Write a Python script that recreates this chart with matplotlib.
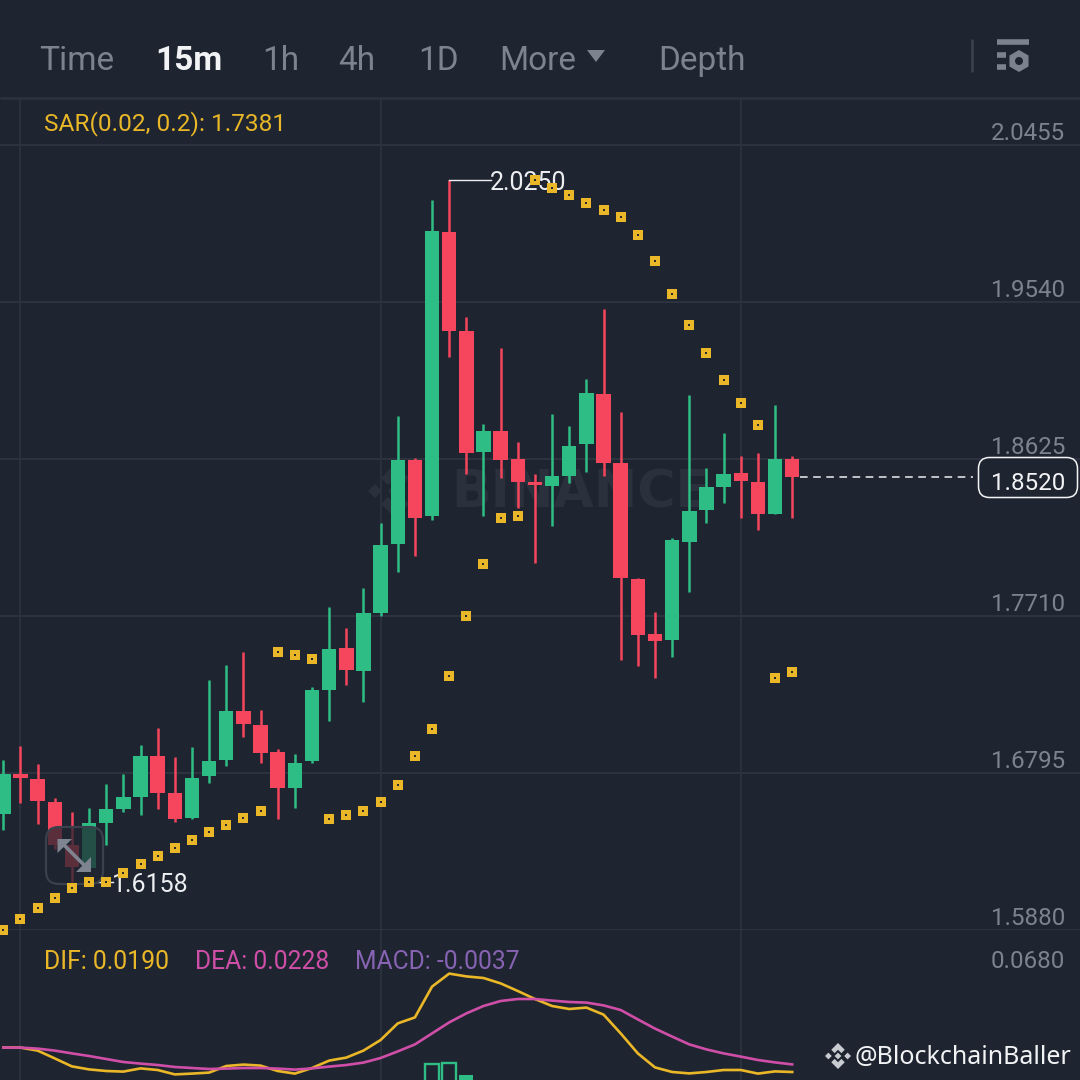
import matplotlib
matplotlib.use("Agg")
import matplotlib.pyplot as plt
from matplotlib.patches import Circle, FancyBboxPatch, Polygon, RegularPolygon

plt.rcParams["font.family"] = ["Roboto", "DejaVu Sans"]

# header tabs
tab_labels = ["Time", "15m", "1h", "4h", "1D", "More", "Depth"]

# price panel
price_ticks = [2.0455, 1.9540, 1.8625, 1.7710, 1.6795, 1.5880]
opens = [1.6558, 1.6787, 1.6758, 1.6628, 1.6375, 1.6243, 1.6505, 1.6587, 1.6657, 1.6896, 1.6678, 1.6531,
         1.6778, 1.6873, 1.7155, 1.7073, 1.6917, 1.6709, 1.6863, 1.7280, 1.7522, 1.7389, 1.7727, 1.8130,
         1.8619, 1.8293, 1.9946, 1.9369, 1.8666, 1.8790, 1.8625, 1.8493, 1.8466, 1.8528, 1.8712, 1.9004,
         1.8602, 1.7924, 1.7605, 1.7568, 1.8144, 1.8328, 1.8462, 1.8545, 1.8493, 1.8303, 1.8623]
closes = [1.6787, 1.6764, 1.6634, 1.6375, 1.6249, 1.6504, 1.6585, 1.6655, 1.6894, 1.6680, 1.6527, 1.6768,
          1.6867, 1.7155, 1.7082, 1.6913, 1.6709, 1.6855, 1.7280, 1.7519, 1.7397, 1.7727, 1.8122, 1.8619,
          1.8283, 1.9954, 1.9371, 1.8658, 1.8788, 1.8621, 1.8493, 1.8473, 1.8526, 1.8703, 1.9010, 1.8603,
          1.7930, 1.7599, 1.7563, 1.8153, 1.8324, 1.8464, 1.8536, 1.8497, 1.8306, 1.8625, 1.8520]
highs = [1.6871, 1.6954, 1.6846, 1.6651, 1.6569, 1.6593, 1.6729, 1.6787, 1.6956, 1.7057, 1.6888, 1.6945,
         1.7339, 1.7423, 1.7498, 1.7164, 1.6933, 1.6906, 1.7298, 1.7762, 1.7640, 1.7873, 1.8250, 1.8877,
         1.8629, 2.0134, 2.0250, 1.9453, 1.8831, 1.9270, 1.8726, 1.8538, 1.8886, 1.8817, 1.9093, 1.9497,
         1.8897, 1.7929, 1.7735, 1.8163, 1.8998, 1.8571, 1.8775, 1.8641, 1.8658, 1.8938, 1.8641]
lows = [1.6461, 1.6622, 1.6500, 1.6352, 1.6158, 1.6241, 1.6375, 1.6568, 1.6550, 1.6583, 1.6511, 1.6525,
        1.6735, 1.6836, 1.7003, 1.6855, 1.6525, 1.6593, 1.6852, 1.7100, 1.7310, 1.7211, 1.7712, 1.7965,
        1.8058, 1.8270, 1.9221, 1.8536, 1.8291, 1.8516, 1.8338, 1.8017, 1.8236, 1.8487, 1.8547, 1.8528,
        1.7454, 1.7417, 1.7349, 1.7469, 1.7848, 1.8254, 1.8367, 1.8281, 1.8211, 1.8303, 1.8279]
sar = [1.5880, 1.5946, 1.6008, 1.6068, 1.6125, 1.6158, 1.6158, 1.6212, 1.6265, 1.6313, 1.6360, 1.6406,
       1.6449, 1.6490, 1.6533, 1.6572, 1.7498, 1.7481, 1.7461, 1.6525, 1.6550, 1.6574, 1.6626, 1.6723,
       1.6894, 1.7051, 1.7362, 1.7708, 1.8013, 1.8283, 1.8291, 2.0249, 2.0204, 2.0162, 2.0117, 2.0074,
       2.0035, 1.9932, 1.9781, 1.9587, 1.9406, 1.9243, 1.9085, 1.8951, 1.8823, 1.7350, 1.7381]

# macd panel
macd_top_tick = 0.0680
dif = [0.0312, 0.0312, 0.0297, 0.0258, 0.0218, 0.0203, 0.0195, 0.0192, 0.0208, 0.0200, 0.0178, 0.0182,
       0.0187, 0.0220, 0.0227, 0.0222, 0.0195, 0.0182, 0.0210, 0.0247, 0.0262, 0.0297, 0.0350, 0.0433,
       0.0463, 0.0617, 0.0682, 0.0668, 0.0660, 0.0633, 0.0595, 0.0555, 0.0520, 0.0505, 0.0512, 0.0477,
       0.0383, 0.0283, 0.0213, 0.0190, 0.0183, 0.0190, 0.0200, 0.0200, 0.0182, 0.0193, 0.0190]
dea = [0.0312, 0.0312, 0.0307, 0.0297, 0.0283, 0.0270, 0.0255, 0.0240, 0.0232, 0.0225, 0.0215, 0.0210,
       0.0205, 0.0207, 0.0210, 0.0210, 0.0207, 0.0202, 0.0208, 0.0217, 0.0225, 0.0237, 0.0260, 0.0293,
       0.0328, 0.0383, 0.0438, 0.0483, 0.0520, 0.0545, 0.0555, 0.0555, 0.0547, 0.0540, 0.0537, 0.0523,
       0.0500, 0.0453, 0.0407, 0.0367, 0.0328, 0.0303, 0.0283, 0.0267, 0.0250, 0.0238, 0.0228]
hist_index = [25, 26, 27]
hist_values = [0.0230, 0.0237, 0.0174]
hist_hollow = [True, True, False]

BG = "#1f2530"
GRID = "#2e3440"
GREEN = "#2ebd85"
RED = "#f6465d"
YELLOW = "#eab728"
PINK = "#cf4fa8"
PURPLE = "#8763b3"
MUTED = "#7c838f"
WHITE = "#eceef1"

W = 1080
fig = plt.figure(figsize=(10.8, 10.8), dpi=100, facecolor=BG)


def pixel_axes(zorder):
    ax = fig.add_axes([0, 0, 1, 1], zorder=zorder)
    ax.set_xlim(0, W)
    ax.set_ylim(W, 0)
    ax.axis("off")
    return ax


def binance_logo(ax, cx, cy, size, color):
    # centre and side diamonds plus the top and bottom chevrons
    r = 0.26 * size
    for dx in (-0.74 * size, 0, 0.74 * size):
        ax.add_patch(Polygon([(cx + dx - r, cy), (cx + dx, cy - r), (cx + dx + r, cy), (cx + dx, cy + r)],
                             closed=True, fc=color, ec="none"))
    chevron = [(0, -1), (0.52, -0.48), (0.26, -0.22), (0, -0.48), (-0.26, -0.22), (-0.52, -0.48)]
    for sign in (1, -1):
        ax.add_patch(Polygon([(cx + px * size, cy + sign * py * size) for px, py in chevron],
                             closed=True, fc=color, ec="none"))


# backdrop: header rule and BINANCE watermark sit under the candles
back = pixel_axes(0)
back.hlines(98, 0, W, color="#2b313c", lw=2.2)
binance_logo(back, 395, 491, 27, "#2b313c")
back.text(451, 493, "BINANCE", color="#2b313c", fontsize=37.5, fontweight="bold", va="center", ha="left",
          family="DejaVu Sans")

# price axes
price_per_px = (price_ticks[0] - price_ticks[1]) / 157
ax = fig.add_axes([0, 150 / W, 1, 831 / W], zorder=1, facecolor="none")
ax.set_xlim(-3.3 / 17.15, (W - 3.3) / 17.15)
ax.set_ylim(price_ticks[-1], price_ticks[-1] + 831 * price_per_px)
ax.axis("off")

# macd axes
macd = fig.add_axes([0, 0, 1, 150 / W], zorder=1, facecolor="none")
macd.set_xlim(ax.get_xlim())
macd.set_ylim(macd_top_tick - 106 * 0.0005, macd_top_tick + 44 * 0.0005)
macd.axis("off")

grid_x = [1, 22, 43]
for a in (ax, macd):
    for gx in grid_x:
        a.axvline(gx, color=GRID, lw=1.1, zorder=1)
ax.hlines(price_ticks, *ax.get_xlim(), color=GRID, lw=1.3, zorder=1)

x = list(range(len(opens)))
colors = [GREEN if c >= o else RED for o, c in zip(opens, closes)]
ax.vlines(x, lows, highs, color=colors, lw=1.8, zorder=3)
ax.bar(x, [c - o for o, c in zip(opens, closes)], bottom=opens, width=0.84, color=colors, zorder=3)

# high / low markers, under the SAR dots
hi_i = highs.index(max(highs))
lo_i = lows.index(min(lows))
ax.plot([hi_i, hi_i + 2.45], [highs[hi_i]] * 2, color=WHITE, lw=1, zorder=4)
ax.annotate(f"{highs[hi_i]:.4f}", (hi_i + 2.4, highs[hi_i]), xytext=(0, -2), textcoords="offset points",
            color=WHITE, fontsize=18, va="center", ha="left", zorder=4)
ax.plot([lo_i + 1.55, lo_i + 2.42], [lows[lo_i]] * 2, color=WHITE, lw=1, zorder=4)
ax.annotate(f"{lows[lo_i]:.4f}", (lo_i + 2.33, lows[lo_i]), xytext=(0, -2), textcoords="offset points",
            color=WHITE, fontsize=18, va="center", ha="left", zorder=4)

ax.scatter(x, sar, marker="s", s=46, color=YELLOW, linewidths=0, zorder=6, clip_on=False)
ax.scatter(x, sar, marker="s", s=3, color="#26282b", linewidths=0, zorder=7, clip_on=False)

# last price dashed line
ax.plot([x[-1] + 0.45, 56.55], [closes[-1]] * 2, color=WHITE, lw=1.1, dashes=(5, 3.6), zorder=4)

# macd lines and histogram
macd.plot(x, dif, color=YELLOW, lw=1.9, solid_joinstyle="round", zorder=3)
macd.plot(x, dea, color=PINK, lw=1.9, solid_joinstyle="round", zorder=4)
for i, v, hollow in zip(hist_index, hist_values, hist_hollow):
    if hollow:
        macd.bar(i, v, width=0.82, facecolor="none", edgecolor=GREEN, lw=1.7, zorder=2)
    else:
        macd.bar(i, v, width=0.82, color=GREEN, zorder=2)

# top layer: text and widgets in pixel coordinates
ui = pixel_axes(2)

tab_x = [39, 155, 262, 338, 418, 499, 658]
for label, tx in zip(tab_labels, tab_x):
    active = label == "15m"
    ui.text(tx, 61, label, color="#f2f3f5" if active else MUTED, fontsize=24,
            fontweight="bold" if active else "normal", va="center", ha="left")
ui.add_patch(Polygon([(587, 50), (605, 50), (596, 62)], closed=True, fc=MUTED, ec="none"))

# chart settings icon
ui.vlines(971.5, 39, 72, color="#3a404b", lw=2)
ui.hlines(42, 997, 1029, color=MUTED, lw=4)
ui.hlines([55, 66.5], 997, 1006, color=MUTED, lw=4)
ui.add_patch(RegularPolygon((1019, 61), 6, radius=11, fc=MUTED, ec="none"))
ui.add_patch(Circle((1019, 61), 4, fc=BG, ec="none"))

ui.text(44, 123.5, "SAR(0.02, 0.2): 1.7381", color=YELLOW, fontsize=17.6, va="center", ha="left")

# price labels sit above their gridlines
for tick in price_ticks:
    py = 930 - (tick - price_ticks[-1]) / price_per_px
    ui.text(1065, py - 11.5, f"{tick:.4f}", color=MUTED, fontsize=17.4, va="center", ha="right")
ui.text(1065, 962, f"{macd_top_tick:.4f}", color=MUTED, fontsize=17.4, va="center", ha="right")

ui.add_patch(FancyBboxPatch((978.5, 457.5), 99, 40, boxstyle="round,pad=0,rounding_size=11", fc=BG, ec="#f2f3f5", lw=1.1))
ui.text(1065, 483, f"{closes[-1]:.4f}", color="#f2f3f5", fontsize=17.4, va="center", ha="right")

ui.text(44, 962, "DIF: 0.0190", color=YELLOW, fontsize=17.9, va="center", ha="left")
ui.text(195, 962, "DEA: 0.0228", color=PINK, fontsize=17.7, va="center", ha="left")
ui.text(355, 962, "MACD: -0.0037", color=PURPLE, fontsize=17.7, va="center", ha="left")

# expand button dims the candles but stays under the SAR dots
button = dict(boxstyle="round,pad=0,rounding_size=13", transform=ui.transData, clip_on=False)
ax.add_patch(FancyBboxPatch((46, 827), 57, 57, fc=BG, alpha=0.72, ec="none", zorder=5, **button))
ax.add_patch(FancyBboxPatch((46, 827), 57, 57, fc="none", ec="#3b414c", lw=1.6, zorder=5, **button))
ui.plot([62, 86], [843, 867], color="#7f8590", lw=2.6)
ui.add_patch(Polygon([(57.5, 839), (72, 839), (57.5, 853)], closed=True, fc="#7f8590", ec="none"))
ui.add_patch(Polygon([(91, 872), (91, 857), (76, 872)], closed=True, fc="#7f8590", ec="none"))

# watermark
binance_logo(ui, 838, 1056, 13, "#c9ccd1")
ui.text(855, 1058, "@BlockchainBaller", color="#f2f3f5", fontsize=18, va="center", ha="left",
        family=["Noto Sans", "DejaVu Sans"])

fig.savefig("out.png", dpi=100, facecolor=BG)
